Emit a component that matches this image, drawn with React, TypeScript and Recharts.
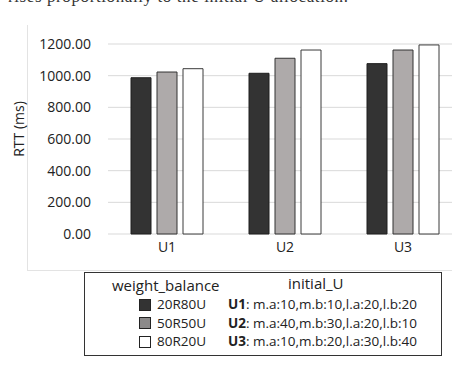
import React from 'react';
import { BarChart, Bar, XAxis, YAxis, CartesianGrid } from 'recharts';

const categories = ['U1', 'U2', 'U3'];
const series20R80U = [987, 1015, 1076];
const series50R50U = [1023, 1110, 1162];
const series80R20U = [1044, 1162, 1194];
const yTicks = [0, 200, 400, 600, 800, 1000, 1200];
const seriesNames = ['20R80U', '50R50U', '80R20U'];
const initialU = [
  { key: 'U1', text: ': m.a:10,m.b:10,l.a:20,l.b:20' },
  { key: 'U2', text: ': m.a:40,m.b:30,l.a:20,l.b:10' },
  { key: 'U3', text: ': m.a:10,m.b:20,l.a:30,l.b:40' },
];

const data = categories.map((c, i) => ({
  name: c,
  s1: series20R80U[i],
  s2: series50R50U[i],
  s3: series80R20U[i],
}));

const FONT = '"Open Sans", sans-serif';
const fills = ['#333333', '#AEAAAA', '#FFFFFF'];
const strokes = ['#1f1f1f', '#333333', '#3a3a3a'];

export default function App() {
  return (
    <div style={{ position: 'absolute', left: 0, top: 0, width: 474, height: 391, background: '#fff', overflow: 'hidden', fontFamily: FONT }}>
      {/* clipped paragraph line from surrounding page */}
      <div style={{ position: 'absolute', left: 8, top: -13, width: 460, height: 19, overflow: 'hidden', fontFamily: 'serif', fontSize: 17, lineHeight: '19px', color: '#333', whiteSpace: 'nowrap', letterSpacing: 0.6 }}>
        rises proportionally to the initial U allocation.
      </div>
      {/* chart frame */}
      <div style={{ position: 'absolute', left: 27, top: 25, width: 0, height: 245, borderLeft: '1px solid #e3e3e3' }} />
      <div style={{ position: 'absolute', left: 27, top: 270, width: 425, height: 0, borderTop: '1px solid #e3e3e3' }} />
      <div style={{ position: 'absolute', left: 0, top: 0 }}>
        <BarChart
          width={474}
          height={391}
          data={data}
          margin={{ top: 44, right: 12, bottom: 137, left: 0 }}
          barSize={20}
          barGap={6}
        >
          <CartesianGrid vertical={false} stroke="#d9d9d9" x={108} width={344} />
          <XAxis
            dataKey="name"
            axisLine={false}
            tickLine={false}
            tickSize={0}
            tickMargin={8}
            height={20}
            tick={{ fill: '#222', fontSize: 14, fontFamily: FONT }}
          />
          <YAxis
            width={108}
            domain={[0, 1200]}
            ticks={yTicks}
            axisLine={false}
            tickLine={false}
            tickSize={0}
            tickMargin={17}
            tickFormatter={(v: number) => v.toFixed(2)}
            tick={{ fill: '#222', fontSize: 14, fontFamily: FONT }}
            label={{
              content: (props: any) => {
                const vb = props.viewBox || { x: 0, y: 44, width: 108, height: 190 };
                const cx = vb.x + 18;
                const cy = vb.y + vb.height / 2 - 10;
                return (
                  <text x={cx} y={cy} transform={`rotate(-90, ${cx}, ${cy})`} textAnchor="middle" dominantBaseline="central" fill="#222" fontSize={14} fontFamily={FONT}>
                    RTT (ms)
                  </text>
                );
              },
            }}
          />
          <Bar dataKey="s1" name={seriesNames[0]} fill={fills[0]} stroke={strokes[0]} strokeWidth={1} isAnimationActive={false} />
          <Bar dataKey="s2" name={seriesNames[1]} fill={fills[1]} stroke={strokes[1]} strokeWidth={1} isAnimationActive={false} />
          <Bar dataKey="s3" name={seriesNames[2]} fill={fills[2]} stroke={strokes[2]} strokeWidth={1} isAnimationActive={false} />
        </BarChart>
      </div>
      {/* legend box */}
      <div style={{ position: 'absolute', left: 84, top: 272, width: 356, height: 82, border: '1.5px solid #333', boxSizing: 'content-box', color: '#222' }}>
        <div style={{ position: 'absolute', left: 27, top: 4, fontSize: 15, lineHeight: '16px', whiteSpace: 'nowrap' }}>weight_balance</div>
        <div style={{ position: 'absolute', left: 203, top: 2, fontSize: 15, lineHeight: '16px', whiteSpace: 'nowrap' }}>initial_U</div>
        {seriesNames.map((n, i) => (
          <div key={n} style={{ position: 'absolute', left: 54, top: 23 + i * 18.5, height: 17, display: 'flex', alignItems: 'center', fontSize: 13.5, lineHeight: '17px', whiteSpace: 'nowrap' }}>
            <span style={{ display: 'inline-block', width: 10, height: 10, background: i === 1 ? '#8c8a8a' : fills[i], border: '1px solid #222', marginRight: 6 }} />
            {n}
          </div>
        ))}
        {initialU.map((u, i) => (
          <div key={u.key} style={{ position: 'absolute', left: 143, top: 23 + i * 18.5, height: 17, lineHeight: '17px', fontSize: 13.5, whiteSpace: 'nowrap' }}>
            <b>{u.key}</b>{u.text}
          </div>
        ))}
      </div>
    </div>
  );
}
